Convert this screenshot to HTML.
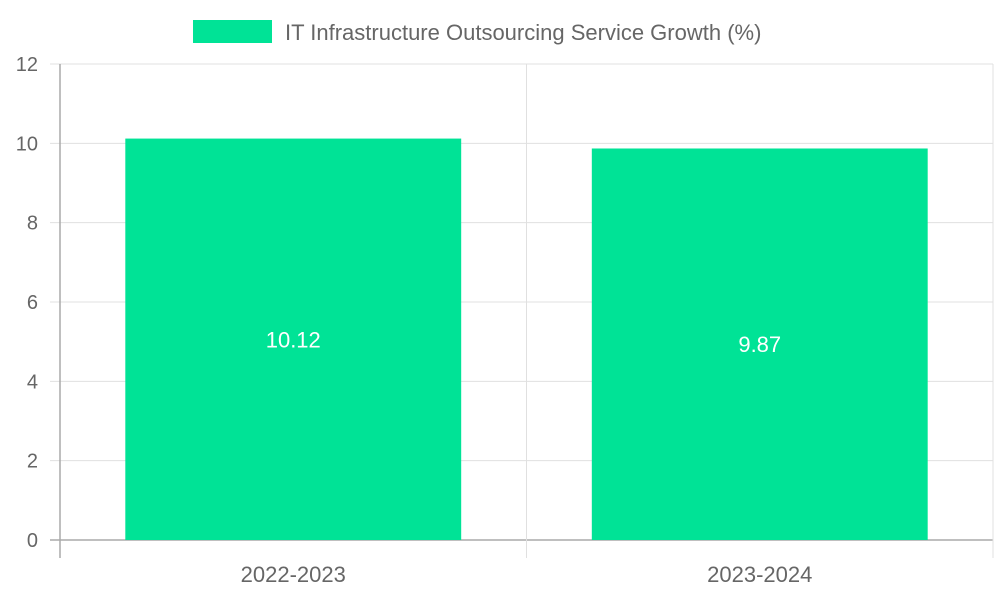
<!DOCTYPE html>
<html><head><meta charset="utf-8"><style>
body{margin:0;background:#fff;}
svg{font-family:"Liberation Sans",sans-serif;}
</style></head><body>
<svg id="chart" width="1000" height="600">
<g id="grid"></g>
<g id="bars"></g>
<g id="labels"></g>
<g>
<rect x="193" y="20" width="79" height="23" fill="#00e396"></rect>
<text x="285" y="40" font-size="22" fill="#666">IT Infrastructure Outsourcing Service Growth (%)</text>
</g>
</svg>
<script>
const categories = ["2022-2023","2023-2024"];
const values = [10.12, 9.87];
const yTicks = [0,2,4,6,8,10,12];
const valueLabels = ["10.12","9.87"];

const NS="http://www.w3.org/2000/svg";
const x0=60,x1=993,y0=540,y1=64,yMax=12;
const yS=v=>y0-(v/yMax)*(y0-y1);
const bw=(x1-x0)/categories.length;
function mk(tag,attrs,parent){const e=document.createElementNS(NS,tag);for(const k in attrs)e.setAttribute(k,attrs[k]);parent.appendChild(e);return e;}
const grid=document.getElementById('grid'),bars=document.getElementById('bars'),labels=document.getElementById('labels');
yTicks.forEach(t=>{
  const y=yS(t);
  const l=mk('line',{x1:50,x2:x1,y1:y,y2:y,stroke:t===0?'#aaa':'#e0e0e0','stroke-width':t===0?1.5:1},grid);
  
  
  const tx=mk('text',{x:38,y:y+7,'text-anchor':'end','font-size':20,fill:'#666'},grid);
  tx.textContent=t;
  
  
});
for(let i=0;i<=categories.length;i++){
  const x=x0+i*bw;
  const l=mk('line',{x1:x,x2:x,y1:y1,y2:558,stroke:i===0?'#aaa':'#e0e0e0','stroke-width':i===0?1.5:1},grid);
  
  
}
categories.forEach((c,i)=>{
  const cx=x0+(i+0.5)*bw,w=bw*0.72,top=yS(values[i]);
  const r=mk('rect',{x:cx-w/2,y:top,width:w,height:y0-top,fill:'#00e396'},bars);
  
  
  const vt=mk('text',{x:cx,y:(top+y0)/2+8,'text-anchor':'middle','font-size':22,fill:'#fff'},labels);
  vt.textContent=valueLabels[i];
  
  
  const xt=mk('text',{x:cx,y:582,'text-anchor':'middle','font-size':22,fill:'#666'},labels);
  xt.textContent=c;
  
  
});
</script>
</body></html>
